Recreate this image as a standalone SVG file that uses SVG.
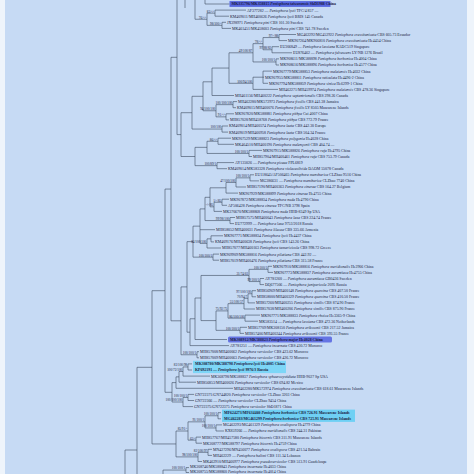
<svg xmlns="http://www.w3.org/2000/svg" width="474" height="474" viewBox="0 0 474 474">
<style>
.bg{fill:#eef4fb}
.panel{fill:#c6daf4}
.ln{fill:none;stroke:#3c4a5e;stroke-width:0.6}
.t{font-family:"Liberation Serif","DejaVu Serif",serif;font-size:3.9px;fill:#1a1a3c}
.b{font-weight:bold}
.i{font-style:italic}
.bs{font-family:"Liberation Serif","DejaVu Serif",serif;font-size:3.3px;fill:#1a1a3c;text-anchor:end}
.hd{fill:#5667e0}
.hv{fill:#6574e3}
.hc{fill:#7dd6f7}
.hc2{fill:#6fd0f4}
</style>
<rect class="bg" x="0" y="0" width="474" height="474"/>
<rect class="panel" x="5" y="0" width="462" height="474"/>
<g id="connectors">
<path class="ln" d="M205,-3 V4 H229.5 M246,10.1 H215 V16.2 H229 M226,22.3 H222 V28.4 H231 M215,13.15 H207 V25.35 H222 M195,-8 V19.25 H207 M185,-8 V8"/>
<path class="ln" d="M296,34.5 H279 V40.6 H287 M279,46.7 H272 V52.8 H292 M279,37.55 H263 V49.75 H272 M279,58.9 H276 V65 H279 M263,43.65 H253 V61.95 H276 M272,71.1 H263 V83.3 H268 M263,77.2 H264 M263,77.2 H253 V89.4 H278 M253,52.8 H229 V83.3 H253 M229,68.05 H212 V95.5 H234"/>
<path class="ln" d="M237,101.6 H233 V107.7 H236 M234,113.8 H226 V119.9 H229 M233,104.65 H216 V116.85 H226 M212,81.8 H203 V110.75 H216 M228,126 H222 V132.1 H228 M203,96.3 H192 V129.05 H222"/>
<path class="ln" d="M231,138.2 H218 V144.3 H234 M262,150.4 H249 V156.5 H252 M218,141.25 H207 V153.45 H249 M234,162.6 H217 V168.7 H227 M207,147.35 H195 V165.65 H217 M192,112.7 H181 V156.5 H195 M177,-20 V134.6 H181"/>
<path class="ln" d="M254,174.8 H250 V180.9 H259 M250,177.85 H236 V187 H246 M236,182.45 H226 V193.1 H238 M229,199.2 H222 V205.3 H227 M222,202.25 H214 V211.4 H222 M226,187.8 H210 V206.8 H214 M235,217.5 H230 V223.6 H234 M210,197.3 H205 V220.55 H230 M223,235.8 H211 V241.9 H214 M211,238.85 H207 V248 H221 M205,208.9 H200 V243.4 H207 M200,229.7 H215 M219,254.1 H213 V260.2 H219 M200,226.15 H193 V257.15 H213"/>
<path class="ln" d="M272,266.3 H268 V272.4 H273 M264,278.5 H260 V284.6 H264 M268,269.35 H249 V281.55 H260 M256,290.7 H252 V296.8 H256 M252,293.75 H248 V302.9 H255 M248,298.3 H244 V309 H255 M260,315.1 H245 V321.2 H258 M244,303.65 H228 V318.15 H245 M247,327.3 H240 V333.4 H244 M228,310.9 H216 V330.35 H240 M249,275.45 H201 V320.6 H216 M201,298 H195 V339.5 H227 M195,318.75 H190 V345.6 H229 M193,241.65 H187 V332.2 H190"/>
<path class="ln" d="M199,351.7 H197 V357.8 H199 M187,286.9 H181 V354.75 H197 M177,57.3 H171 V320.8 H181"/>
<path class="ln" d="M192,363.9 H188 V370 H192 M188,366.95 H183 V376.1 H210 M183,371.5 H179 V382.2 H196 M179,376.85 H176 V388.3 H233 M194,394.4 H188 V400.5 H194 M188,397.45 H183 V406.6 H193 M176,382.6 H172 V402 H183 M171,189.05 H165 V392.3 H172"/>
<path class="ln" d="M221,412.7 H218 V418.8 H221 M222,424.9 H216 V431 H224 M218,415.75 H205 V427.95 H216 M201,437.1 H196 V443.2 H202 M205,421.85 H188 V440.15 H196 M212,449.3 H208 V455.4 H212 M208,452.35 H198 V461.5 H202 M188,431 H176 V456.9 H198 M165,290.7 H152 V443.95 H176"/>
<path class="ln" d="M189,467.6 H186 V472.5 H189 M186,470.05 H163 V490 M152,367.3 H137 V490 M137,450 H125 V490"/>
</g>
<g id="support">
<text class="bs" x="214.2" y="12.5">83/-/-</text>
<text class="bs" x="221.2" y="24.7">98/100/-</text>
<text class="bs" x="206.2" y="18.6">76/-/-</text>
<text class="bs" x="278.2" y="36.9">97/-/88</text>
<text class="bs" x="262.2" y="43">78/-/-</text>
<text class="bs" x="271.2" y="49.1">97/88/82</text>
<text class="bs" x="275.2" y="61.3">100/100/1</text>
<text class="bs" x="252.2" y="52.1">49/100/87</text>
<text class="bs" x="252.2" y="82.6">100/94/100</text>
<text class="bs" x="232.2" y="104">100/100/100</text>
<text class="bs" x="225.2" y="116.2">91/-/-</text>
<text class="bs" x="215.2" y="110.1">94/100/100</text>
<text class="bs" x="221.2" y="128.4">100/100</text>
<text class="bs" x="217.2" y="140.6">86/-/-</text>
<text class="bs" x="248.2" y="152.8">100/100/1</text>
<text class="bs" x="216.2" y="165">100/89/1</text>
<text class="bs" x="249.2" y="177.2">100/100/1</text>
<text class="bs" x="235.2" y="181.8">47/100/100</text>
<text class="bs" x="221.2" y="201.6">1/-/85</text>
<text class="bs" x="213.2" y="206.1">-/-/85</text>
<text class="bs" x="229.2" y="219.9">99/98/100</text>
<text class="bs" x="206.2" y="242.7">84/100/100</text>
<text class="bs" x="212.2" y="256.5">100/100/1</text>
<text class="bs" x="267.2" y="268.7">100/100/1</text>
<text class="bs" x="259.2" y="280.9">99/100/1</text>
<text class="bs" x="248.2" y="274.8">31/74/61</text>
<text class="bs" x="251.2" y="293.1">97/100/100</text>
<text class="bs" x="247.2" y="297.6">70/94/7</text>
<text class="bs" x="243.2" y="303">55/100/57</text>
<text class="bs" x="244.2" y="317.5">86/100/100</text>
<text class="bs" x="227.2" y="310.2">75/92/75</text>
<text class="bs" x="239.2" y="329.7">100/100/1</text>
<text class="bs" x="196.2" y="354.1">100/100/1</text>
<text class="bs" x="187.2" y="366.3">83/100/98</text>
<text class="bs" x="182.2" y="370.8">100/72/100</text>
<text class="bs" x="187.2" y="396.8">100/100/1</text>
<text class="bs" x="182.2" y="401.3">100/100/100</text>
<text class="bs" x="217.2" y="415.1">100/100/1</text>
<text class="bs" x="215.2" y="427.3">100/100/1</text>
<text class="bs" x="204.2" y="421.2">91/100/1</text>
<text class="bs" x="195.2" y="439.5">63/-</text>
<text class="bs" x="187.2" y="430.3">85/91/-</text>
<text class="bs" x="207.2" y="451.7">82/100/97</text>
<text class="bs" x="197.2" y="456.2">98/100/100</text>
<text class="bs" x="185.2" y="469.4">100/100/1</text>
</g>
<g id="leaf-01"><rect class="hd" x="229.5" y="1.1" width="101" height="5.8"/><text class="t b" x="231.5" y="5.4">MK335796/MK358815 <tspan class="i">Peniophora taiwanensis</tspan> ShD1988 China</text></g>
<g id="leaf-02"><text class="t" x="247" y="11.5">AF377282 — <tspan class="i">Peniophora lycii</tspan> TFC/4 857 —</text></g>
<g id="leaf-03"><text class="t" x="230" y="17.6">KM409011/MH460626 <tspan class="i">Peniophora lycii</tspan> BRIS 145 Canada</text></g>
<g id="leaf-04"><text class="t" x="227" y="23.7">JX398971 <tspan class="i">Peniophora pini</tspan> CBS 101.30 Sweden</text></g>
<g id="leaf-05"><text class="t" x="232" y="29.8">MK461451/MK458603 <tspan class="i">Peniophora pini</tspan> CBS 741.78 Sweden</text></g>
<g id="leaf-06"><text class="t" x="297" y="35.9">MG462292/MG452922 <tspan class="i">Peniophora crassitunicata</tspan> CBS 605.73 Ecuador</text></g>
<g id="leaf-07"><text class="t" x="288" y="42">MK907264/MK906810 <tspan class="i">Peniophora crassitunicata</tspan> He4454 China</text></g>
<g id="leaf-08"><text class="t" x="280" y="48.1">EU306849 — <tspan class="i">Peniophora lassiana</tspan> KADC519 Singapore</text></g>
<g id="leaf-09"><text class="t" x="293" y="54.2">EU876462 — <tspan class="i">Peniophora fulvescens</tspan> LY/NB 1276 Brazil</text></g>
<g id="leaf-10"><text class="t" x="280" y="60.3">MK908611/MK588898 <tspan class="i">Peniophora borbonica</tspan> He4004 China</text></g>
<g id="leaf-11"><text class="t" x="280" y="66.4">MK908616/MK588896 <tspan class="i">Peniophora borbonica</tspan> He4577 China</text></g>
<g id="leaf-12"><text class="t" x="273" y="72.5">MK907779/MK588853 <tspan class="i">Peniophora malaiensis</tspan> He4032 China</text></g>
<g id="leaf-13"><text class="t" x="265" y="78.6">MK907955/MK588811 <tspan class="i">Peniophora reticulata</tspan> He4496-2 China</text></g>
<g id="leaf-14"><text class="t" x="269" y="84.7">MK907794/MK588859 <tspan class="i">Peniophora sinica</tspan> He6299-1 China</text></g>
<g id="leaf-15"><text class="t" x="279" y="90.8">MH462271/MH459974 <tspan class="i">Peniophora malaiensis</tspan> CBS 478.36 Singapore</text></g>
<g id="leaf-16"><text class="t" x="235" y="96.9">MH461156/MH460222 <tspan class="i">Peniophora septentrionalis</tspan> CBS 298.26 Canada</text></g>
<g id="leaf-17"><text class="t" x="238" y="103">MH462280/MK572973 <tspan class="i">Peniophora fissilis</tspan> CBS 441.38 Jamaica</text></g>
<g id="leaf-18"><text class="t" x="237" y="109.1">KM409015/MH460076 <tspan class="i">Peniophora fissilis</tspan> LY 8505 Mascarene Islands</text></g>
<g id="leaf-19"><text class="t" x="235" y="115.2">MK907820/MK588881 <tspan class="i">Peniophora pithya</tspan> Cui 4007 China</text></g>
<g id="leaf-20"><text class="t" x="230" y="121.3">MH857028/MH458768 <tspan class="i">Peniophora pithya</tspan> CBS 772.79 France</text></g>
<g id="leaf-21"><text class="t" x="229" y="127.4">KM409014/MH460574 <tspan class="i">Peniophora laeta</tspan> CBS 442.30 Europe</text></g>
<g id="leaf-22"><text class="t" x="229" y="133.5">KM409019/MH460958 <tspan class="i">Peniophora laeta</tspan> CBS 504.34 France</text></g>
<g id="leaf-23"><text class="t" x="232" y="139.6">MK907529/MK588823 <tspan class="i">Peniophora polygonia</tspan> He4028 China</text></g>
<g id="leaf-24"><text class="t" x="235" y="145.7">MK464510/MH460190 <tspan class="i">Peniophora malençonii</tspan> CBS 404.74 —</text></g>
<g id="leaf-25"><text class="t" x="263" y="151.8">MK907915/MK588826 <tspan class="i">Peniophora rufa</tspan> He4795 China</text></g>
<g id="leaf-26"><text class="t" x="253" y="157.9">MH857904/MH460461 <tspan class="i">Peniophora rufa</tspan> CBS 753.79 Canada</text></g>
<g id="leaf-27"><text class="t" x="235" y="164">AY135026 — <tspan class="i">Peniophora piceae</tspan> FPL6819</text></g>
<g id="leaf-28"><text class="t" x="228" y="170.1">KM409014/MK583328 <tspan class="i">Peniophora violaceolivida</tspan> DAOM 55078 Canada</text></g>
<g id="leaf-29"><text class="t" x="255" y="176.2">EU118645/AF506465 <tspan class="i">Peniophora manshurica</tspan> CLZhao 9516 China</text></g>
<g id="leaf-30"><text class="t" x="260" y="182.3">MG386631 — <tspan class="i">Peniophora manshurica</tspan> CLZhao 7740 China</text></g>
<g id="leaf-31"><text class="t" x="247" y="188.4">MH857190/MH460363 <tspan class="i">Peniophora cinerea</tspan> CBS 164.27 Belgium</text></g>
<g id="leaf-32"><text class="t" x="239" y="194.5">MK907929/MK588899 <tspan class="i">Peniophora cinerea</tspan> He4755 China</text></g>
<g id="leaf-33"><text class="t" x="230" y="200.6">MK907872/MK588834 <tspan class="i">Peniophora nuda</tspan> He4790 China</text></g>
<g id="leaf-34"><text class="t" x="228" y="206.7">AF506428 <tspan class="i">Peniophora cinerea</tspan> TFC/NB 3798 Spain</text></g>
<g id="leaf-35"><text class="t" x="223" y="212.8">MK370670/MK588868 <tspan class="i">Peniophora nuda</tspan> HHB-8349 Sp USA</text></g>
<g id="leaf-36"><text class="t" x="236" y="218.9">MH857575/MH460043 <tspan class="i">Peniophora laxa</tspan> CBS 224.74 France</text></g>
<g id="leaf-37"><text class="t" x="235" y="225">EU772999 — <tspan class="i">Peniophora laxa</tspan> 9753/2018 Russia</text></g>
<g id="leaf-38"><text class="t" x="216" y="231.1">MH858052/MH460031 <tspan class="i">Peniophora lilacea</tspan> CBS 335.66 Armenia</text></g>
<g id="leaf-39"><text class="t" x="224" y="237.2">MK907771/MK588834 <tspan class="i">Peniophora lycii</tspan> He4437 China</text></g>
<g id="leaf-40"><text class="t" x="215" y="243.3">KM409176/MH460638 <tspan class="i">Peniophora lycii</tspan> CBS 143.26 China</text></g>
<g id="leaf-41"><text class="t" x="222" y="249.4">MH857077/MH460163 <tspan class="i">Peniophora tamaricicola</tspan> CBS 998.72 Greece</text></g>
<g id="leaf-42"><text class="t" x="220" y="255.5">MK909909/MK588816 <tspan class="i">Peniophora pilatiana</tspan> CBS 442.92 —</text></g>
<g id="leaf-43"><text class="t" x="220" y="261.6">MH857019/MH460476 <tspan class="i">Peniophora pilatiana</tspan> CBS 315.58 France</text></g>
<g id="leaf-44"><text class="t" x="273" y="267.7">MK907910/MK588816 <tspan class="i">Peniophora meridionalis</tspan> He2906 China</text></g>
<g id="leaf-45"><text class="t" x="274" y="273.8">MK907773/MK588837 <tspan class="i">Peniophora aurantiaca</tspan> He4755 China</text></g>
<g id="leaf-46"><text class="t" x="265" y="279.9">AY781260 — <tspan class="i">Peniophora aurantiaca</tspan> GB0436 Sweden</text></g>
<g id="leaf-47"><text class="t" x="265" y="286">DQ677506 — <tspan class="i">Peniophora junipericola</tspan> 2095 Russia</text></g>
<g id="leaf-48"><text class="t" x="257" y="292.1">MH856969/MH460148 <tspan class="i">Peniophora quercina</tspan> CBS 407.50 France</text></g>
<g id="leaf-49"><text class="t" x="257" y="298.2">MH858000/MH460329 <tspan class="i">Peniophora quercina</tspan> CBS 410.50 France</text></g>
<g id="leaf-50"><text class="t" x="256" y="304.3">MH857260/MH460255 <tspan class="i">Peniophora similis</tspan> CBS 874.90 France</text></g>
<g id="leaf-51"><text class="t" x="256" y="310.4">MH857038/MH460206 <tspan class="i">Peniophora similis</tspan> CBS 875.90 France</text></g>
<g id="leaf-52"><text class="t" x="261" y="316.5">MK907771/MK588833 <tspan class="i">Peniophora rhoica</tspan> He3365-9 China</text></g>
<g id="leaf-53"><text class="t" x="259" y="322.6">MK583514 — <tspan class="i">Peniophora lassiana</tspan> CBS 472.36 Netherlands</text></g>
<g id="leaf-54"><text class="t" x="248" y="328.7">MH857709/MK308150 <tspan class="i">Peniophora erikssonii</tspan> CBS 217.52 Jamaica</text></g>
<g id="leaf-55"><text class="t" x="245" y="334.8">MH857406/MH460244 <tspan class="i">Peniophora erikssonii</tspan> CBS 393.55 France</text></g>
<g id="leaf-56"><rect class="hv" x="228" y="336.6" width="104" height="5.8" rx="1.5"/><text class="t b" x="230" y="340.9">MK308912/MK588823 <tspan class="i">Peniophora major</tspan> He4028 China</text></g>
<g id="leaf-57"><text class="t" x="230" y="347">AY781251 — <tspan class="i">Peniophora incarnata</tspan> CBS 430.72 Morocco</text></g>
<g id="leaf-58"><text class="t" x="200" y="353.1">MH857008/MH460062 <tspan class="i">Peniophora versicolor</tspan> CBS 423.62 Morocco</text></g>
<g id="leaf-59"><text class="t" x="200" y="359.2">MH857009/MH460063 <tspan class="i">Peniophora versicolor</tspan> CBS 426.72 Morocco</text></g>
<g id="leaf-60"><rect class="hc" x="193" y="360.8" width="93" height="12.3"/><text class="t b" x="195" y="365.3">MK308780/MK588798 <tspan class="i">Peniophora lycii</tspan> He4005 China</text></g>
<g id="leaf-61"><text class="t b" x="195" y="371.4">KP692191 — <tspan class="i">Peniophora lycii</tspan> 9976/3 Russia</text></g>
<g id="leaf-62"><text class="t" x="211" y="377.5">MK368798/MK588837 <tspan class="i">Peniophora sphaerocystidiata</tspan> HHB-9027 Sp USA</text></g>
<g id="leaf-63"><text class="t" x="197" y="383.6">MH856853/MH460026 <tspan class="i">Peniophora versicolor</tspan> CBS 694.82 Mexico</text></g>
<g id="leaf-64"><text class="t" x="234" y="389.7">MH462280/MK572974 <tspan class="i">Peniophora crassitunicata</tspan> CBS 618.61 Mascarene Islands</text></g>
<g id="leaf-65"><text class="t" x="195" y="395.8">GN722371/GN744820 <tspan class="i">Peniophora versicolor</tspan> CLZhao 3203 China</text></g>
<g id="leaf-66"><text class="t" x="195" y="401.9">GN722366 — <tspan class="i">Peniophora versicolor</tspan> CLZhao 9454 China</text></g>
<g id="leaf-67"><text class="t" x="194" y="408">GN722375/GN722375 <tspan class="i">Peniophora versicolor</tspan> ShD1871 China</text></g>
<g id="leaf-68"><rect class="hc2" x="222" y="409.6" width="133" height="12.3"/><text class="t b" x="224" y="414.1">MF624273/MF634460 <tspan class="i">Peniophora borbonica</tspan> CBS 726.91 Mascarene Islands</text></g>
<g id="leaf-69"><text class="t b" x="224" y="420.2">MG462283/MG461299 <tspan class="i">Peniophora borbonica</tspan> CBS 725.91 Mascarene Islands</text></g>
<g id="leaf-70"><text class="t" x="223" y="426.3">MG462293/MG461329 <tspan class="i">Peniophora ovalispora</tspan> He4779 China</text></g>
<g id="leaf-71"><text class="t" x="225" y="432.4">KX859266 — <tspan class="i">Peniophora meridionalis</tspan> CBS 244.31 Pakistan</text></g>
<g id="leaf-72"><text class="t" x="202" y="438.5">MH857767/MH457580 <tspan class="i">Peniophora bicornis</tspan> CBS 311.91 Mascarene Islands</text></g>
<g id="leaf-73"><text class="t" x="203" y="444.6">MK308777/MK588797 <tspan class="i">Peniophora bicornis</tspan> He4759 China</text></g>
<g id="leaf-74"><text class="t" x="213" y="450.7">MN427296/MN456077 <tspan class="i">Peniophora ovalispora</tspan> CBS 421.54 Bahrain</text></g>
<g id="leaf-75"><text class="t" x="213" y="456.8">MH462229 — <tspan class="i">Peniophora halimi</tspan> CBS 111.34 Lebanon</text></g>
<g id="leaf-76"><text class="t" x="203" y="462.9">MK462910/MH460977 <tspan class="i">Peniophora pseudoversicolor</tspan> CBS 513.91 Guadeloupe</text></g>
<g id="leaf-77"><text class="t" x="190" y="468.4">MK308746/MK588843 <tspan class="i">Peniophora incarnata</tspan> He4033 China</text></g>
<g id="leaf-78"><text class="t" x="190" y="473.3">MK308755/MK588860 <tspan class="i">Peniophora incarnata</tspan> He4014 China</text></g>
</svg>
